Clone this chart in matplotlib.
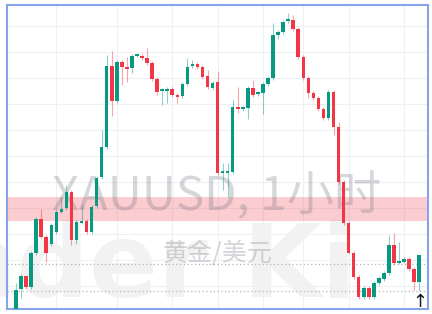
import matplotlib.pyplot as plt
import numpy as np

# XAUUSD 1h candles
opens = [2368.8, 2371.1, 2372.4, 2371.3, 2374.7, 2378.1, 2376.3, 2375.6, 2376.8, 2378.8,
         2379.2, 2380.8, 2376.0, 2377.7, 2377.9, 2376.8, 2379.4, 2382.3, 2385.3, 2393.4,
         2389.9, 2393.8, 2393.3, 2393.2, 2394.4, 2394.4, 2394.2, 2393.7, 2392.1, 2390.9,
         2390.9, 2391.1, 2390.5, 2390.4, 2391.6, 2393.4, 2393.6, 2393.3, 2392.4, 2391.2,
         2391.8, 2382.7, 2382.7, 2382.8, 2389.3, 2389.1, 2389.2, 2391.2, 2390.6, 2390.7,
         2391.6, 2392.2, 2396.5, 2396.8, 2397.9, 2398.0, 2397.1, 2394.3, 2392.2, 2390.7,
         2390.2, 2389.1, 2388.2, 2390.8, 2387.3, 2381.8, 2377.7, 2374.7, 2372.3, 2370.3,
         2371.2, 2370.3, 2371.7, 2372.1, 2372.7, 2375.5, 2373.7, 2373.8, 2374.1, 2373.1,
         2371.8]
closes = [2371.0, 2372.4, 2371.3, 2374.7, 2378.1, 2376.3, 2374.7, 2377.5, 2378.8, 2379.1,
          2380.8, 2376.0, 2377.8, 2377.9, 2376.8, 2379.3, 2382.2, 2385.3, 2393.4, 2389.9,
          2393.8, 2393.3, 2393.1, 2394.4, 2394.5, 2394.2, 2393.7, 2392.1, 2390.8, 2391.0,
          2391.1, 2390.5, 2390.3, 2391.6, 2393.3, 2393.6, 2393.3, 2392.3, 2391.3, 2391.7,
          2382.7, 2382.9, 2382.8, 2389.3, 2389.1, 2389.2, 2391.2, 2390.5, 2390.7, 2391.6,
          2392.2, 2396.5, 2396.8, 2397.8, 2398.0, 2397.1, 2394.3, 2392.2, 2390.7, 2390.2,
          2389.1, 2388.2, 2390.8, 2387.3, 2381.8, 2377.7, 2374.7, 2372.3, 2370.3, 2371.2,
          2370.3, 2371.7, 2372.2, 2372.7, 2375.5, 2373.7, 2373.8, 2374.1, 2373.1, 2371.8,
          2374.5]
highs = [2371.7, 2372.6, 2372.5, 2374.9, 2378.3, 2379.1, 2376.5, 2377.7, 2379.0, 2380.3,
         2381.5, 2381.0, 2378.0, 2379.5, 2378.1, 2379.5, 2382.4, 2387.0, 2394.5, 2394.9,
         2394.0, 2394.0, 2394.3, 2394.6, 2394.6, 2394.7, 2395.2, 2393.9, 2392.3, 2391.2,
         2391.3, 2391.3, 2390.7, 2391.8, 2394.2, 2394.0, 2393.8, 2393.5, 2393.0, 2391.9,
         2392.9, 2383.7, 2383.7, 2390.0, 2391.3, 2389.4, 2391.4, 2392.0, 2390.9, 2391.8,
         2392.4, 2397.7, 2397.0, 2398.0, 2398.7, 2398.5, 2397.3, 2394.5, 2392.4, 2390.9,
         2390.4, 2389.3, 2391.0, 2391.0, 2387.8, 2382.0, 2377.9, 2374.9, 2372.5, 2371.4,
         2371.4, 2371.9, 2372.4, 2372.9, 2376.5, 2376.7, 2375.8, 2374.3, 2374.3, 2373.3,
         2374.3]
lows = [2368.4, 2370.2, 2371.1, 2371.1, 2374.5, 2376.1, 2373.8, 2375.4, 2376.6, 2378.7,
        2379.0, 2375.5, 2375.6, 2377.6, 2376.6, 2376.6, 2379.2, 2382.1, 2385.1, 2388.4,
        2389.7, 2391.5, 2391.8, 2392.7, 2394.3, 2394.0, 2393.5, 2391.9, 2390.5, 2389.5,
        2389.7, 2390.3, 2389.7, 2390.2, 2391.4, 2393.2, 2393.1, 2392.1, 2391.1, 2391.0,
        2382.5, 2381.0, 2380.3, 2382.6, 2388.7, 2388.9, 2388.1, 2390.3, 2390.4, 2388.6,
        2391.4, 2392.0, 2396.1, 2396.6, 2397.7, 2396.9, 2394.1, 2392.0, 2390.2, 2390.0,
        2388.9, 2388.0, 2388.0, 2386.5, 2381.6, 2377.5, 2374.6, 2372.1, 2370.1, 2370.1,
        2370.1, 2370.1, 2371.5, 2371.9, 2372.5, 2373.5, 2373.6, 2373.7, 2372.9, 2371.0,
        2370.9]

zone_low, zone_high = 2377.9, 2380.3        # red rectangle
price_lines = [2373.6, 2370.9]              # dotted lines
grid_prices = [2397.4, 2394.8, 2392.2, 2389.6, 2387.0, 2384.4, 2381.8, 2379.2,
               2376.6, 2374.0, 2371.4]
grid_bars = [8, 20, 31, 40, 49, 57, 66, 77]

green = '#089981'
red = '#f23645'

o = np.array(opens)
c = np.array(closes)
h = np.array(highs)
l = np.array(lows)
x = np.arange(len(o))
up = c >= o

fig = plt.figure(figsize=(4.32, 3.14), dpi=100)
ax = fig.add_axes([7 / 432, 5 / 314, 421 / 432, 304 / 314])

for p in grid_prices:
    ax.axhline(p, color='#eef0f4', lw=0.8, zorder=0)
for b in grid_bars:
    ax.axvline(b, color='#eef0f4', lw=0.8, zorder=0)

ax.axhspan(zone_low, zone_high, color=red, alpha=0.25, lw=0, zorder=1)
for p in price_lines:
    ax.axhline(p, color='#b2b5be', lw=0.9, ls=(0, (1, 2)), zorder=1)

# watermarks
ax.text(-0.397, 0.039, 'Trader Ki', transform=ax.transAxes, ha='left', va='baseline',
        fontsize=73, fontweight='bold', color='#f2f2f2', zorder=0.5)
ax.text(0.497, 0.37, 'XAUUSD, 1小时', transform=ax.transAxes, ha='center', va='center',
        fontsize=34, color='#787b86', alpha=0.3, zorder=1.5,
        family=['Noto Sans CJK SC', 'DejaVu Sans'])
ax.text(0.501, 0.18, '黄金/美元', transform=ax.transAxes, ha='center', va='center',
        fontsize=18, color='#787b86', alpha=0.3, zorder=1.5,
        family=['Noto Sans CJK SC', 'DejaVu Sans'])

# candles
colors = np.where(up, green, red)
ax.vlines(x, l, h, colors=colors, lw=0.8, alpha=0.45, zorder=2)
body = np.maximum(np.abs(c - o), 0.2)
ax.bar(x, body, bottom=np.minimum(o, c), width=0.7, color=colors, lw=0, zorder=3)

ax.text(0.981, 0.022, '↑', transform=ax.transAxes, ha='center', va='center',
        fontsize=13, color='#131722', zorder=4)

ax.set_xlim(-1.79, 81.75)
ax.set_ylim(2369.1, 2399.5)
ax.set_xticks([])
ax.set_yticks([])
for s in ax.spines.values():
    s.set_color('#86a5e8')
    s.set_linewidth(1.5)

fig.savefig('out.png', dpi=100)
